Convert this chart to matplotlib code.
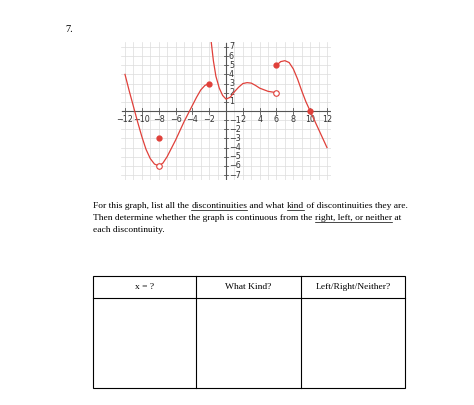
import matplotlib
matplotlib.use("Agg")
import matplotlib.pyplot as plt
from matplotlib.lines import Line2D
from matplotlib.patches import Rectangle

W, H = 474, 405
RED = "#e0403a"

# curve pieces (x, y)
p1x = [-12, -11.5, -11, -10.5, -10, -9.5, -9, -8.5, -8]
p1y = [4, 2.2, 0.5, -1.2, -2.8, -4.2, -5.2, -5.8, -6]
p2x = [-8, -7.5, -7, -6, -5, -4, -3.5, -3, -2.5, -2]
p2y = [-6, -5.7, -5, -3.2, -1.2, 0.6, 1.5, 2.3, 2.8, 3]
p3x = [-1.75, -1.5, -1.2, -0.8, -0.4, 0, 0.5, 1, 1.5, 2, 2.5, 3, 3.5, 4, 5, 6]
p3y = [7.5, 5.5, 3.8, 2.5, 1.7, 1.3, 1.5, 2.1, 2.6, 3.0, 3.1, 3.05, 2.8, 2.5, 2.15, 2]
p4x = [6, 6.5, 7, 7.5, 8, 8.5, 9, 9.5, 10, 10.5, 11, 11.5, 12]
p4y = [5, 5.4, 5.5, 5.3, 4.6, 3.5, 2.2, 1, 0, -1, -2, -3, -4]
filled_x = [-8, -2, 6, 10]
filled_y = [-3, 3, 5, 0]
open_x = [-8, 6]
open_y = [-6, 2]
xticks = [-12, -10, -8, -6, -4, -2, 2, 4, 6, 8, 10, 12]
yticks = [-7, -6, -5, -4, -3, -2, -1, 1, 2, 3, 4, 5, 6, 7]
headers = ["x = ?", "What Kind?", "Left/Right/Neither?"]

fig = plt.figure(figsize=(W/100, H/100), dpi=100)
plt.rcParams['font.family'] = ['Liberation Serif', 'DejaVu Serif']

def px(l, t, r, b):
    return [l/W, 1-b/H, (r-l)/W, (b-t)/H]

ax = fig.add_axes(px(120.8, 42.4, 331.2, 179.6))
ax.set_xlim(-12.5, 12.5); ax.set_ylim(-7.5, 7.5)
ax.axis("off")
for v in range(-12, 13):
    ax.plot([v, v], [-7.5, 7.5], color="#dcdcdc", lw=0.5, zorder=0)
for v in range(-7, 8):
    ax.plot([-12.5, 12.5], [v, v], color="#dcdcdc", lw=0.5, zorder=0)
ax.plot([-12.4, 12.4], [0, 0], color="#555", lw=0.8, zorder=1)
ax.plot([0, 0], [-7.4, 7.4], color="#555", lw=0.8, zorder=1)
for t in xticks:
    ax.plot([t, t], [-0.3, 0.3], color="#555", lw=0.6)
    ax.text(t, -0.45, str(t).replace("-", "\u2212"), ha="center", va="top", fontsize=5.8, family="DejaVu Sans", color="#333")
for t in yticks:
    ax.plot([-0.25, 0.25], [t, t], color="#555", lw=0.6)
    ax.text(0.35, t, str(t).replace("-", "\u2212"), ha="left", va="center", fontsize=5.8, family="DejaVu Sans", color="#333")
for xs, ys in [(p1x, p1y), (p2x, p2y), (p3x, p3y), (p4x, p4y)]:
    ax.plot(xs, ys, color=RED, lw=0.9, zorder=3)
ax.plot(filled_x, filled_y, "o", color=RED, ms=3.5, zorder=4)
ax.plot(open_x, open_y, "o", mfc="white", mec=RED, mew=0.8, ms=4, zorder=4)

fig.text(65/W, 1-30/H, "7.", fontsize=7.5, va="center")

lines = [
    [("For this graph, list all the ", False), ("discontinuities", True), (" and what ", False), ("kind", True), (" of discontinuities they are.", False)],
    [("Then determine whether the graph is continuous from the ", False), ("right, left, or neither", True), (" at", False)],
    [("each discontinuity.", False)],
]
FS = 6.8
fig.canvas.draw()
r = fig.canvas.get_renderer()
for i, segs in enumerate(lines):
    x = 93
    y = 208 + 12*i
    for s, u in segs:
        t = fig.text(x/W, 1-y/H, s, fontsize=FS, va="baseline")
        bb = t.get_window_extent(r)
        if u:
            fig.add_artist(Line2D([x/W, (x+bb.width)/W], [1-(y+1.5)/H]*2, color="black", lw=0.5))
        x += bb.width

# table
L, R, T, B = 93, 405, 276, 388
cols = [93, 196, 301, 405]
fig.add_artist(Rectangle((L/W, 1-B/H), (R-L)/W, (B-T)/H, fill=False, ec="black", lw=0.8, transform=fig.transFigure))
for c in cols[1:-1]:
    fig.add_artist(Line2D([c/W]*2, [1-T/H, 1-B/H], color="black", lw=0.8))
fig.add_artist(Line2D([L/W, R/W], [1-298/H]*2, color="black", lw=0.8))
for i, h in enumerate(headers):
    fig.text((cols[i]+cols[i+1])/2/W, 1-287/H, h, ha="center", va="center", fontsize=FS)

fig.savefig("out.png", dpi=100)
